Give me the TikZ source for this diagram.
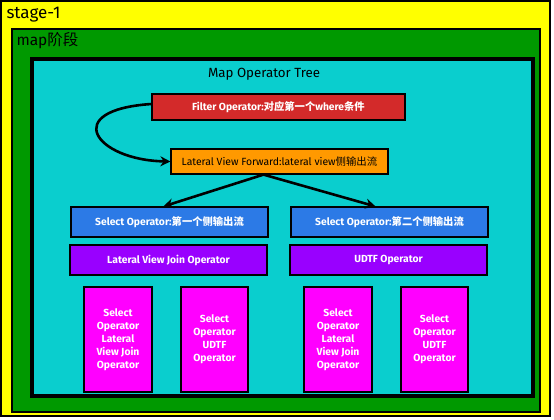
\documentclass[tikz,border=0pt]{standalone}
\usepackage{fontspec}
\setmainfont{Fira Sans}
\newfontfamily\cjk{Noto Sans CJK SC}
\usetikzlibrary{arrows.meta,calc}
\definecolor{cYel}{RGB}{255,255,0}
\definecolor{cGrn}{RGB}{0,153,0}
\definecolor{cCyan}{RGB}{10,206,206}
\definecolor{cRed}{RGB}{211,42,42}
\definecolor{cOrg}{RGB}{255,153,0}
\definecolor{cBlue}{RGB}{44,122,230}
\definecolor{cPur}{RGB}{153,0,255}
\definecolor{cMag}{RGB}{255,0,255}
\tikzset{
  opbox/.style={draw=black, line width=1.2bp, inner sep=0pt, align=center, font=\fontsize{10.3bp}{12bp}\selectfont\bfseries},
  magbox/.style={opbox, fill=cMag, text=white, minimum width=68bp, minimum height=105bp, font=\fontsize{10.3bp}{13bp}\selectfont\bfseries},
  conn/.style={line width=2.6bp, -{Stealth[length=10bp,width=10bp]}}
}
\begin{document}
\begin{tikzpicture}[x=1bp,y=-1bp]
\useasboundingbox (0,0) rectangle (554,419);
\fill[white] (0,0) rectangle (554,419);
\draw[fill=cYel, line width=2bp] (1,1) rectangle (550,416);
\draw[fill=cGrn, line width=2bp] (12,29) rectangle (540,412);
\draw[fill=cCyan, line width=3.5bp] (32,59) rectangle (533,396);
\node[anchor=west, font=\fontsize{17bp}{20bp}\selectfont] (stage) at (3,15) {stage-1};
\node[anchor=west, font=\fontsize{15.5bp}{18bp}\selectfont] (mapst) at (13,41) {map{\cjk 阶段}};
\node[font=\fontsize{13.3bp}{15bp}\selectfont] (title) at (264,74) {Map Operator Tree};
\node[opbox, fill=cRed, text=white, minimum width=253bp, minimum height=26bp] (red) at (278.5,107) {Filter Operator:{\cjk 对应第一个}where{\cjk 条件}};
\node[opbox, fill=cOrg, text=black, minimum width=217bp, minimum height=25bp, font=\fontsize{10.4bp}{12bp}\selectfont] (org) at (279.5,161.5) {Lateral View Forward:lateral view{\cjk 侧输出流}};
\node[opbox, fill=cBlue, text=white, minimum width=197bp, minimum height=30bp] (bl) at (169.5,222) {Select Operator:{\cjk 第一个侧输出流}};
\node[opbox, fill=cBlue, text=white, minimum width=197bp, minimum height=30bp] (br) at (389.5,222) {Select Operator:{\cjk 第二个侧输出流}};
\node[opbox, fill=cPur, text=white, minimum width=197bp, minimum height=30bp] (pl) at (168.5,260) {Lateral View Join Operator};
\node[opbox, fill=cPur, text=white, minimum width=197bp, minimum height=30bp] (pr) at (388.5,260) {UDTF Operator};
\node[magbox] (m1) at (118,339.5) {Select\\Operator\\Lateral\\View Join\\Operator};
\node[magbox, minimum width=67bp] (m2) at (214.5,339.5) {Select\\Operator\\UDTF\\Operator};
\node[magbox] (m3) at (338,339.5) {Select\\Operator\\Lateral\\View Join\\Operator};
\node[magbox, minimum width=67bp] (m4) at (434.5,339.5) {Select\\Operator\\UDTF\\Operator};
\coordinate (rs) at ($(red.west)+(0,-3)$);
\draw[conn] (rs) .. controls (60,110) and (95,160) .. (org.west);
\coordinate (os) at ($(org.south)+(-16,0)$);
\draw[conn] (os) -- ($(bl.north)+(-6,0)$);
\draw[conn] (os) -- ($(br.north)+(-14,0)$);
\end{tikzpicture}
\end{document}
